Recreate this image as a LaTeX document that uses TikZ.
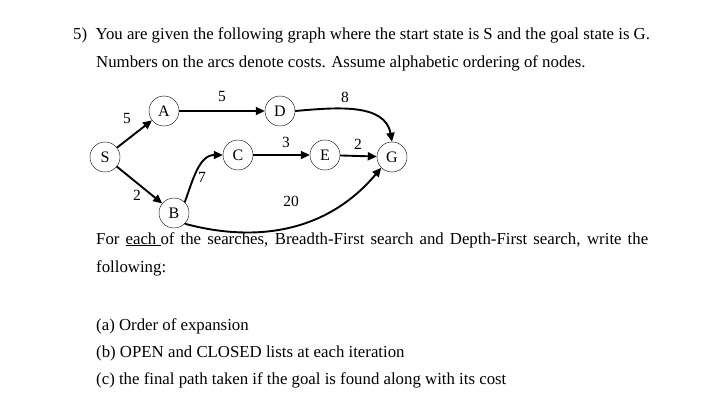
\documentclass[tikz,border=0pt]{standalone}
\usepackage{fontspec}
\setmainfont{Liberation Serif}
\usetikzlibrary{arrows.meta}
\begin{document}
\begin{tikzpicture}[x=1pt,y=-1pt,
  st/.style={circle,draw,thin,minimum size=30pt,inner sep=0pt,font=\fontsize{16}{16}\selectfont},
  ed/.style={draw,line width=1.9pt,-{Triangle[length=9pt,width=8pt]}},
  lb/.style={font=\fontsize{15.5}{15.5}\selectfont,inner sep=1pt},
  tx/.style={anchor=base west,inner sep=0pt,font=\fontsize{16.8}{16.8}\selectfont}]
\useasboundingbox (0,0) rectangle (725,409);
\node[tx] (t1) at (73,40) {5)\ \ You are given the following graph where the start state is S and the goal state is G.};
\node[tx] (t2) at (96,68) {Numbers on the arcs denote costs. Assume alphabetic ordering of nodes.};
\node[st] (S) at (105,157) {S};
\node[st] (A) at (164,111) {A};
\node[st] (D) at (280,111) {D};
\node[st] (C) at (238,155) {C};
\node[st] (E) at (325,155) {E};
\node[st] (G) at (392,157) {G};
\node[st] (B) at (174,213) {B};
\draw[ed] (S) -- (A);
\draw[ed] (S) -- (B);
\draw[ed] (A) -- (D);
\draw[ed] (C) -- (E);
\draw[ed] (E) -- (G);
\draw[ed] (B.north east) to[out=70,in=180] (C.west);
\draw[ed] (D.east) to[out=5,in=100] (G.north);
\draw[ed] (B.south east) to[out=-15,in=230] (G.south west);
\node[lb] (l1) at (127,119) {5};
\node[lb] (l2) at (137,195) {2};
\node[lb] (l3) at (222,97) {5};
\node[lb] (l4) at (286,142) {3};
\node[lb] (l5) at (345,97) {8};
\node[lb] (l6) at (358,144) {2};
\node[lb] (l7) at (202,177) {7};
\node[lb] (l8) at (291,201) {20};
\node[tx] (t3) at (96,244) {\hbox to 552pt{For \underline{each }of the searches, Breadth-First search and Depth-First search, write the}};
\node[tx] (t4) at (96,272) {following:};
\node[tx] (t5) at (96,330) {(a) Order of expansion};
\node[tx] (t6) at (96,357) {(b) OPEN and CLOSED lists at each iteration};
\node[tx] (t7) at (96,384) {(c) the final path taken if the goal is found along with its cost};
\end{tikzpicture}
\end{document}
